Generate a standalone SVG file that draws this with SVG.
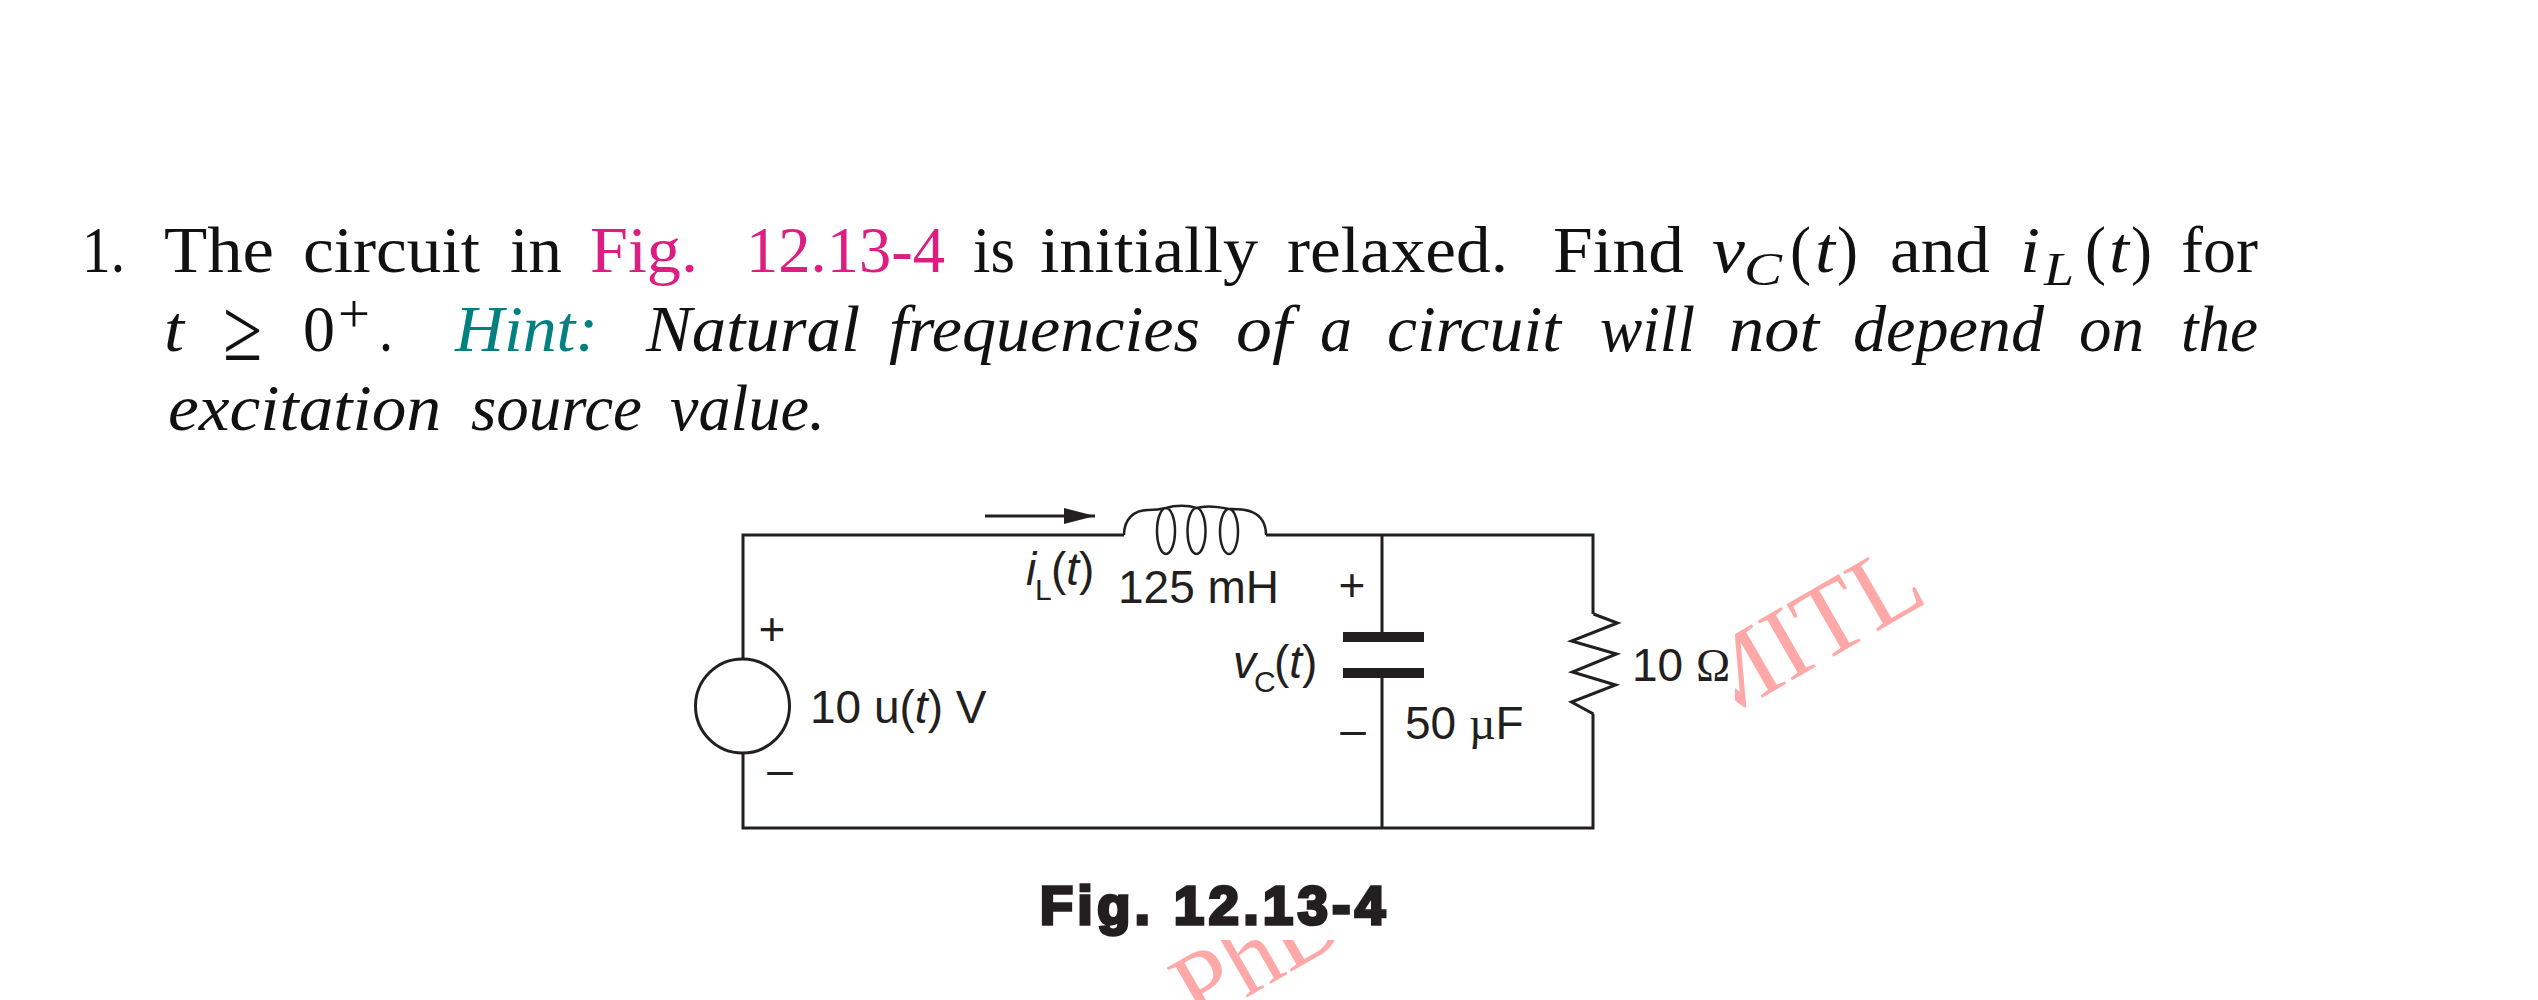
<svg xmlns="http://www.w3.org/2000/svg" width="2538" height="1000" viewBox="0 0 2538 1000">
<defs>
<style>
.t{font-family:"Liberation Serif","Times New Roman",serif;font-size:66px;fill:#111}
.i{font-style:italic}
.m{fill:#dc1e82}
.h{fill:#008080}
.s{font-size:46px}
.c{font-family:"Liberation Sans",Arial,sans-serif;font-size:46px;fill:#231f20}
.g{font-family:"Liberation Serif",serif}
.sub{font-size:30px}
.w{fill:none;stroke:#231f20;stroke-width:3;stroke-linejoin:miter}
.l{stroke-width:2.5}
.plate{fill:#231f20}
.wm{font-family:"Liberation Serif",serif;font-size:100px;fill:#ffa8a8}
</style>
<marker id="ah" markerUnits="userSpaceOnUse" markerWidth="32" markerHeight="18" refX="31" refY="8" orient="auto"><path d="M0 0L31 8L0 16Z" fill="#231f20"/></marker>
<clipPath id="c1"><rect x="1735" y="500" width="300" height="300"/></clipPath>
<clipPath id="c2"><rect x="1100" y="940" width="400" height="60"/></clipPath>
</defs>
<rect width="2538" height="1000" fill="#fff"/>
<g id="problem-text">
<text class="t" x="82" y="272" textLength="43" lengthAdjust="spacingAndGlyphs">1.</text>
<text class="t" x="164" y="272" textLength="110" lengthAdjust="spacingAndGlyphs">The</text>
<text class="t" x="303" y="272" textLength="177" lengthAdjust="spacingAndGlyphs">circuit</text>
<text class="t" x="510" y="272" textLength="52" lengthAdjust="spacingAndGlyphs">in</text>
<text class="t m" x="590" y="272" textLength="108" lengthAdjust="spacingAndGlyphs">Fig.</text>
<text class="t m" x="746" y="272" textLength="199" lengthAdjust="spacingAndGlyphs">12.13-4</text>
<text class="t" x="973" y="272" textLength="42" lengthAdjust="spacingAndGlyphs">is</text>
<text class="t" x="1040" y="272" textLength="218" lengthAdjust="spacingAndGlyphs">initially</text>
<text class="t" x="1287" y="272" textLength="221" lengthAdjust="spacingAndGlyphs">relaxed.</text>
<text class="t" x="1553" y="272" textLength="131" lengthAdjust="spacingAndGlyphs">Find</text>
<text class="t i" x="1712" y="272" textLength="33" lengthAdjust="spacingAndGlyphs">v</text>
<text class="t i s" x="1744" y="285" textLength="38" lengthAdjust="spacingAndGlyphs">C</text>
<text class="t" x="1790" y="272" textLength="21" lengthAdjust="spacingAndGlyphs">(</text>
<text class="t i" x="1815" y="272" textLength="20" lengthAdjust="spacingAndGlyphs">t</text>
<text class="t" x="1837" y="272" textLength="21" lengthAdjust="spacingAndGlyphs">)</text>
<text class="t" x="1890" y="272" textLength="100" lengthAdjust="spacingAndGlyphs">and</text>
<text class="t i" x="2020" y="272" textLength="20" lengthAdjust="spacingAndGlyphs">i</text>
<text class="t i s" x="2044" y="285" textLength="30" lengthAdjust="spacingAndGlyphs">L</text>
<text class="t" x="2085" y="272" textLength="21" lengthAdjust="spacingAndGlyphs">(</text>
<text class="t i" x="2109" y="272" textLength="20" lengthAdjust="spacingAndGlyphs">t</text>
<text class="t" x="2131" y="272" textLength="21" lengthAdjust="spacingAndGlyphs">)</text>
<text class="t" x="2181" y="272" textLength="77" lengthAdjust="spacingAndGlyphs">for</text>
<text class="t i" x="164" y="351" textLength="20" lengthAdjust="spacingAndGlyphs">t</text>
<text class="t" x="223" y="360" textLength="39" lengthAdjust="spacingAndGlyphs" style="font-size:88px">≥</text>
<text class="t" x="303" y="351" textLength="32" lengthAdjust="spacingAndGlyphs">0</text>
<text class="t" x="338" y="332" textLength="32" lengthAdjust="spacingAndGlyphs" style="font-size:54px">+</text>
<text class="t" x="379" y="351" textLength="14" lengthAdjust="spacingAndGlyphs">.</text>
<text class="t i h" x="455" y="351" textLength="143" lengthAdjust="spacingAndGlyphs">Hint:</text>
<text class="t i" x="646" y="351" textLength="214" lengthAdjust="spacingAndGlyphs">Natural</text>
<text class="t i" x="889" y="351" textLength="311" lengthAdjust="spacingAndGlyphs">frequencies</text>
<text class="t i" x="1236" y="351" textLength="56" lengthAdjust="spacingAndGlyphs">of</text>
<text class="t i" x="1320" y="351" textLength="32" lengthAdjust="spacingAndGlyphs">a</text>
<text class="t i" x="1387" y="351" textLength="174" lengthAdjust="spacingAndGlyphs">circuit</text>
<text class="t i" x="1600" y="351" textLength="95" lengthAdjust="spacingAndGlyphs">will</text>
<text class="t i" x="1729" y="351" textLength="90" lengthAdjust="spacingAndGlyphs">not</text>
<text class="t i" x="1853" y="351" textLength="191" lengthAdjust="spacingAndGlyphs">depend</text>
<text class="t i" x="2079" y="351" textLength="65" lengthAdjust="spacingAndGlyphs">on</text>
<text class="t i" x="2181" y="351" textLength="77" lengthAdjust="spacingAndGlyphs">the</text>
<text class="t i" x="168" y="430" textLength="273" lengthAdjust="spacingAndGlyphs">excitation</text>
<text class="t i" x="471" y="430" textLength="171" lengthAdjust="spacingAndGlyphs">source</text>
<text class="t i" x="670" y="430" textLength="155" lengthAdjust="spacingAndGlyphs">value.</text>
</g>
<g id="watermark-right" clip-path="url(#c1)">
<text class="wm" transform="translate(1708 729) rotate(-30)" style="font-size:105px">MITL</text>
</g>
<g id="connectors">
<path class="w" d="M1124 535H743V660M743 752V828H1593V714M1266 535H1593V614M1382 535V632M1382 676V828"/>
<path class="w" d="M985 516H1095" marker-end="url(#ah)"/>
</g>
<g id="source"><circle class="w" cx="742.5" cy="706" r="47"/></g>
<g id="inductor"><path class="w l" d="M1124 535C1124 519 1134 510 1148 510C1156 510 1162 509 1166 508M1166 508A9 23 0 1 1 1166 554A9 23 0 1 1 1166 508C1175 505 1188 505 1196.5 508M1196.5 508A9 23 0 1 0 1196.5 554A9 23 0 1 0 1196.5 508C1206 505 1220 507 1229 509M1229 509A9 22.5 0 1 0 1229 554A9 22.5 0 1 0 1229 509C1238 509 1266 507 1266 535"/></g>
<g id="capacitor"><rect class="plate" x="1343" y="632" width="81" height="10"/><rect class="plate" x="1343" y="668" width="81" height="10"/></g>
<g id="resistor"><path class="w" d="M1593.5 614L1617.4 623L1571.5 641L1616.5 654L1572.4 672L1615.6 685L1571.5 702L1593.5 714"/></g>
<g id="labels">
<text class="c" x="772" y="645" text-anchor="middle">+</text>
<text class="c" x="780" y="785" text-anchor="middle">–</text>
<text class="c" x="1352" y="601" text-anchor="middle">+</text>
<text class="c" x="1353" y="745" text-anchor="middle">–</text>
<text class="c" x="810" y="723">10 u(<tspan font-style="italic">t</tspan>) V</text>
<text class="c" x="1026" y="585" font-style="italic">i</text>
<text class="c sub" x="1035" y="600">L</text>
<text class="c" x="1051" y="585">(<tspan font-style="italic">t</tspan>)</text>
<text class="c" x="1118" y="603">125 mH</text>
<text class="c" x="1233" y="678" font-style="italic">v</text>
<text class="c sub" x="1254" y="692">C</text>
<text class="c" x="1274" y="678">(<tspan font-style="italic">t</tspan>)</text>
<text class="c" x="1405" y="739">50 <tspan class="g">µ</tspan>F</text>
<text class="c" x="1632" y="681">10 <tspan class="g">Ω</tspan></text>
<text x="1040" y="924" font-family="'Liberation Sans',Arial,sans-serif" font-size="54" font-weight="700" fill="#231f20" stroke="#231f20" stroke-width="3.5" textLength="345" lengthAdjust="spacing">Fig. 12.13-4</text>
</g>
<g id="watermark-bottom" clip-path="url(#c2)">
<text class="wm" transform="translate(1197 1026) rotate(-30)">PhD</text>
</g>
</svg>
